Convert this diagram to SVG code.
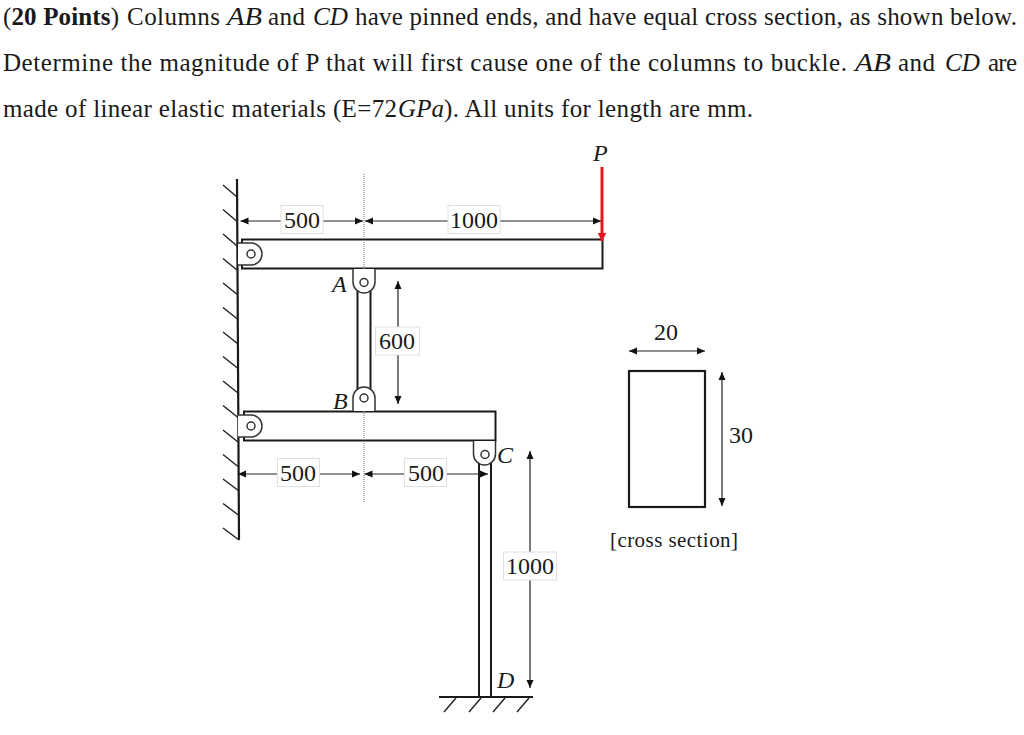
<svg xmlns="http://www.w3.org/2000/svg" width="1024" height="735" viewBox="0 0 1024 735">
<style>
text{font-family:"Liberation Serif","Times New Roman",serif;fill:#1a1a1a}
.p{font-size:25px}
.i{font-style:italic}
.d{font-size:24px;text-anchor:middle}
.l{font-size:24px;font-style:italic}
.s{fill:#fff;stroke:#1a1a1a;stroke-width:2}
.c{fill:#fff;stroke:#333;stroke-width:1.5}
.h{fill:none;stroke:#222;stroke-width:1.4}
.w{fill:none;stroke:#1a1a1a;stroke-width:2.2}
.b{fill:#fff;stroke:#e0e0e0;stroke-width:1}
.a{fill:none;stroke:#222;stroke-width:1.2;marker-start:url(#ar);marker-end:url(#ar)}
.e{fill:none;stroke:#888;stroke-width:1.2;stroke-dasharray:1 1}
</style>
<defs>
<marker id="ar" viewBox="0 0 8 8" refX="8" refY="4" markerWidth="8" markerHeight="8" markerUnits="userSpaceOnUse" orient="auto-start-reverse"><path d="M0 0.500L8 4L0 7.500z" fill="#111"/></marker>
<marker id="red" viewBox="0 0 9 9" refX="8.500" refY="4.500" markerWidth="9" markerHeight="9" markerUnits="userSpaceOnUse" orient="auto"><path d="M0 0L9 4.500L0 9z" fill="#e8141c"/></marker>
</defs>
<rect width="1024" height="735" fill="#fff"/>
<g id="statement">
<text class="p" y="25"><tspan x="3" textLength="116" lengthAdjust="spacing">(<tspan font-weight="bold">20 Points</tspan>)</tspan></text>
<text class="p" x="127" y="25" textLength="93" lengthAdjust="spacing">Columns</text>
<text class="p i" x="227" y="25" textLength="35" lengthAdjust="spacingAndGlyphs">AB</text>
<text class="p" x="268" y="25" textLength="37" lengthAdjust="spacing">and</text>
<text class="p i" x="313" y="25" textLength="35" lengthAdjust="spacingAndGlyphs">CD</text>
<text class="p" x="355" y="25" textLength="662" lengthAdjust="spacing">have pinned ends, and have equal cross section, as shown below.</text>
<text class="p" x="3" y="71" textLength="844" lengthAdjust="spacing">Determine the magnitude of P that will first cause one of the columns to buckle.</text>
<text class="p i" x="855" y="71" textLength="36" lengthAdjust="spacingAndGlyphs">AB</text>
<text class="p" x="898" y="71" textLength="37" lengthAdjust="spacing">and</text>
<text class="p i" x="945" y="71" textLength="35" lengthAdjust="spacingAndGlyphs">CD</text>
<text class="p" x="988" y="71" textLength="29" lengthAdjust="spacing">are</text>
<text class="p" x="3" y="117" textLength="394" lengthAdjust="spacing">made of linear elastic materials (E=72</text>
<text class="p i" x="398" y="117" textLength="46" lengthAdjust="spacing">GPa</text>
<text class="p" x="444" y="117" textLength="309" lengthAdjust="spacing">). All units for length are mm.</text>
</g>
<g id="wall">
<path class="w" d="M237 179L239 540"/>
<path class="h" d="M223 185L237 197M223 209.500L237 221.500M223 234L237 246M223 258.500L237.500 270.500M223 283L238 295M223 307.500L238 319.500M223 332L238 344M223 356.500L238 368.500M223 381L238 393M223 405.500L238 417.500M223 430L238 442M223 454.500L238 466.500M223 479L239 491M223 503.500L239 515.500M223 528L239 540"/>
</g>
<g id="beam-top">
<rect class="s" x="242" y="239.500" width="360.500" height="29"/>
</g>
<g id="beam-mid">
<rect class="s" x="244" y="411.500" width="251.500" height="29"/>
</g>
<g id="column-ab">
<rect class="s" x="357.500" y="285" width="13" height="110"/>
</g>
<g id="column-cd">
<rect class="s" x="479" y="458" width="12" height="239"/>
</g>
<g id="pin-wall-top">
<path class="c" d="M238 243H251A11 11 0 0 1 251 265H238"/>
<circle class="c" cx="251" cy="254" r="4"/>
</g>
<g id="pin-wall-mid">
<path class="c" d="M238 415H251A11 11 0 0 1 251 437H238"/>
<circle class="c" cx="251" cy="426" r="4"/>
</g>
<g id="pin-a">
<path class="c" d="M353 269V282A11 11 0 0 0 375 282V269"/>
<circle class="c" cx="364" cy="282.500" r="4"/>
<text class="l" x="332" y="292">A</text>
</g>
<g id="pin-b">
<path class="c" d="M353 411V398A11 11 0 0 1 375 398V411"/>
<circle class="c" cx="364" cy="398" r="4"/>
<text class="l" x="333" y="409">B</text>
</g>
<g id="pin-c">
<path class="c" d="M473.500 441V454A11 11 0 0 0 495.500 454V441"/>
<circle class="c" cx="485" cy="454.500" r="4"/>
<text class="l" x="497" y="463">C</text>
</g>
<g id="ground-d">
<path class="w" d="M439 697H533"/>
<path class="h" d="M444 712L456 698M469 712L481 698M493 712L505 698M517 712L529 698"/>
<text class="l" x="497" y="688">D</text>
</g>
<g id="connectors">
<path class="e" d="M364 174V269M364 411V503"/>
<path class="a" d="M240.500 221H363"/>
<path class="a" d="M365 221H601"/>
<path class="a" d="M398 281V404"/>
<path class="a" d="M238 474H360"/>
<path class="a" d="M364.500 474H488"/>
<path class="a" d="M530 451V688"/>
<path class="a" d="M629 351H705"/>
<path class="a" d="M722 372V506"/>
<path d="M602 167V241" fill="none" stroke="#e8141c" stroke-width="3" marker-end="url(#red)"/>
</g>
<g id="dim-500-top"><rect class="b" x="281" y="205.500" width="42" height="28"/><text class="d" x="302" y="228">500</text></g>
<g id="dim-1000-top"><rect class="b" x="448" y="205.500" width="52" height="28"/><text class="d" x="474" y="228">1000</text></g>
<g id="dim-600"><rect class="b" x="375.500" y="327" width="44" height="28"/><text class="d" x="397" y="349">600</text></g>
<g id="dim-500-left"><rect class="b" x="277.500" y="458.500" width="42" height="28"/><text class="d" x="298" y="481">500</text></g>
<g id="dim-500-right"><rect class="b" x="404.500" y="458.500" width="42" height="28"/><text class="d" x="426" y="481">500</text></g>
<g id="dim-1000-cd"><rect class="b" x="503.500" y="552" width="53" height="28"/><text class="d" x="530" y="574">1000</text></g>
<g id="load-p"><text class="l" x="593" y="161">P</text></g>
<g id="cross-section">
<rect class="w" x="629" y="371" width="76" height="136"/>
<text class="d" x="666" y="340">20</text>
<text class="d" x="741" y="443">30</text>
<text x="610" y="547" font-size="21" textLength="128" lengthAdjust="spacing">[cross section]</text>
</g>
</svg>
